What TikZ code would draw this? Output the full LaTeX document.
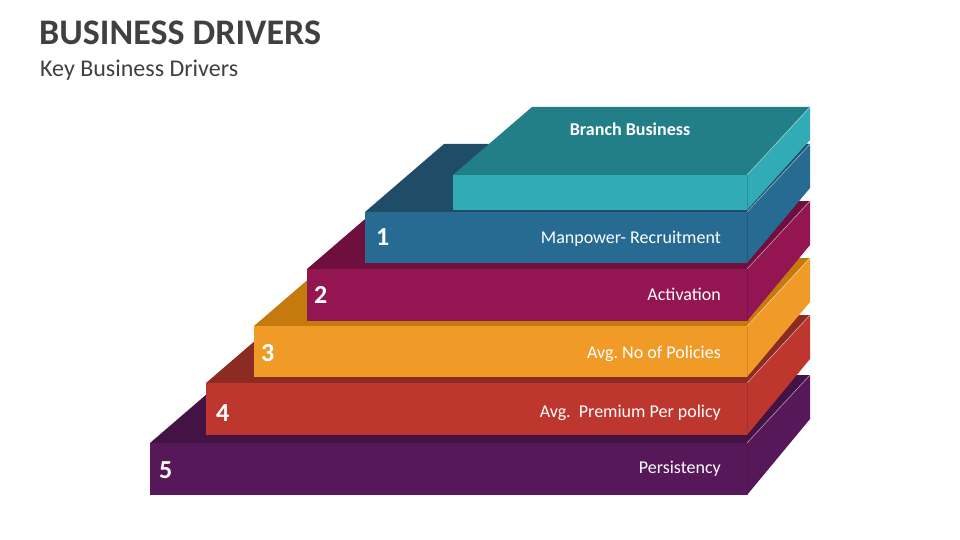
\documentclass[tikz,border=0pt]{standalone}
\usepackage{fontspec}
\setmainfont{Carlito}
\usepackage{xcolor}
\usepackage{tikz}
\frenchspacing
\definecolor{inkgray}{HTML}{404040}
\definecolor{purpF}{HTML}{571859}
\definecolor{purpT}{HTML}{431345}
\definecolor{brickF}{HTML}{BE372F}
\definecolor{brickT}{HTML}{8C2A24}
\definecolor{amberF}{HTML}{F09B28}
\definecolor{amberT}{HTML}{C57A0E}
\definecolor{plumF}{HTML}{931552}
\definecolor{plumT}{HTML}{6E0F3E}
\definecolor{oceanF}{HTML}{276B92}
\definecolor{oceanT}{HTML}{1F4D68}
\definecolor{tealF}{HTML}{31ABB6}
\definecolor{tealT}{HTML}{237F87}

\begin{document}
\begin{tikzpicture}[x=1pt,y=-1pt,
  lbl/.style={text=white,font=\fontsize{18}{20}\selectfont,inner sep=0pt,anchor=base east},
  num/.style={text=white,font=\bfseries\fontsize{26}{28}\selectfont,inner sep=0pt,anchor=base west}]
\useasboundingbox (0,0) rectangle (960,540);
% slabs, bottom one first
\foreach \xl/\yt/\h/\hb/\fc/\tc in {150/443/52/44/purpF/purpT, 206/383/52/44/brickF/brickT,
    254/326/51/44/amberF/amberT, 307/269/52/44/plumF/plumT, 365/212/51/44/oceanF/oceanT,
    453/175/35/33/tealF/tealT}{
  \fill[\tc] (\xl,\yt) -- (747,\yt) -- (810,\yt-68) -- (\xl+79,\yt-68) -- cycle;
  \fill[\fc] (747,\yt) -- (810,\yt-68) -- (810,\yt-68+\hb) -- (747,\yt+\h) -- cycle;
  \draw[white,opacity=0.5,line width=0.6pt] (747,\yt) -- (810,\yt-68);
  \fill[\fc] (\xl,\yt) rectangle (747,\yt+\h);
  \draw[\tc,opacity=0.6,line width=0.5pt] (747,\yt) -- (747,\yt+\h);
}
\node[font=\bfseries\fontsize{36}{40}\selectfont,text=inkgray,inner sep=0pt,anchor=base west] (title) at (39,45) {BUSINESS DRIVERS};
\node[font=\fontsize{24}{28}\selectfont,text=inkgray,inner sep=0pt,anchor=base west] (subtitle) at (40,77) {Key Business Drivers};
\node[text=white,font=\bfseries\fontsize{18}{20}\selectfont,inner sep=0pt,anchor=base] (top) at (630,136) {Branch Business};
\node[lbl] (l1) at (721,243) {Manpower- Recruitment};
\node[lbl] (l2) at (721,300) {Activation};
\node[lbl] (l3) at (721,358) {Avg. No of Policies};
\node[lbl] (l4) at (721,417) {Avg.\ \ Premium Per policy};
\node[lbl] (l5) at (721,473) {Persistency};
\node[num] (n1) at (376,245) {1};
\node[num] (n2) at (314,303) {2};
\node[num] (n3) at (261,361) {3};
\node[num] (n4) at (216,421) {4};
\node[num] (n5) at (159,478) {5};
\end{tikzpicture}
\end{document}
